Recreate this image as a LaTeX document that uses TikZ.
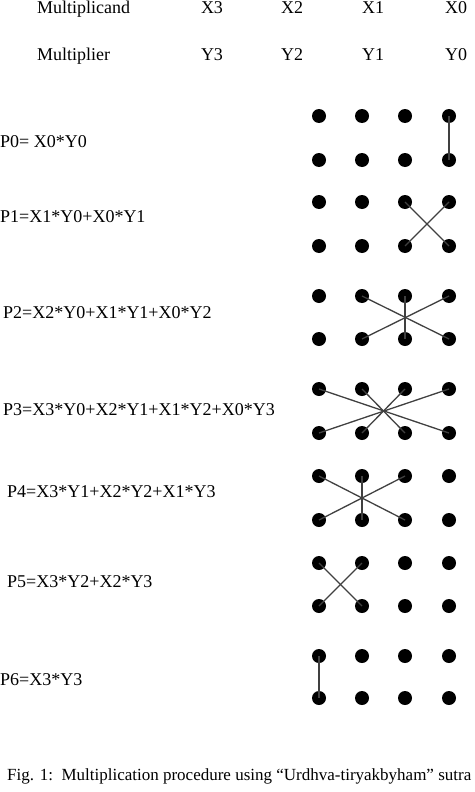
\documentclass[tikz,border=0pt]{standalone}
\usepackage{fontspec}
\setmainfont{Liberation Serif}
\usetikzlibrary{positioning}

\tikzset{
  dot/.style={circle, fill=black, inner sep=0pt, minimum size=14pt},
  leg/.style={line width=1.3pt, black!75},
  txt/.style={inner sep=0pt, font=\fontsize{18}{20}\selectfont},
}

\begin{document}
\begin{tikzpicture}[x=1pt, y=-1pt]
    \useasboundingbox (0,0) rectangle (474,792);%

    % Header
    \node [txt, anchor=base west] (Mcand) at (37,14) {Multiplicand};%
    \node [txt, anchor=base west] (Mplier) at (37,61) {Multiplier};%
    \foreach \c/\x in {3/212, 2/292, 1/373, 0/456} {%
      \node [txt, anchor=base] (X\c) at (\x,14) {X\c};%
      \node [txt, anchor=base] (Y\c) at (\x,61) {Y\c};%
    }

    % Dot grids (t = multiplicand row, b = multiplier row)
    \foreach \p/\yt/\yb in {0/116/160, 1/202/246, 2/296/339, 3/389/433,
      4/476/520, 5/563/606, 6/656/698} {%
      \foreach \c/\x in {3/319, 2/362, 1/405, 0/449} {%
        \node [dot] (t\p-\c) at (\x,\yt) {};%
        \node [dot] (b\p-\c) at (\x,\yb) {};%
      }
    }

    % Partial products
    \node [txt, anchor=west] (P0) at (0,142) {P0= X0*Y0};%
    \node [txt, anchor=west] (P1) at (0,217) {P1=X1*Y0+X0*Y1};%
    \node [txt, anchor=west] (P2) at (3,313) {P2=X2*Y0+X1*Y1+X0*Y2};%
    \node [txt, anchor=west] (P3) at (3,410) {P3=X3*Y0+X2*Y1+X1*Y2+X0*Y3};%
    \node [txt, anchor=west] (P4) at (7,492) {P4=X3*Y1+X2*Y2+X1*Y3};%
    \node [txt, anchor=west] (P5) at (7,582) {P5=X3*Y2+X2*Y3};%
    \node [txt, anchor=west] (P6) at (0,680) {P6=X3*Y3};%

    % Crosswise lines
    \draw [leg] (t0-0.center) -- (b0-0.center);%
    \draw [leg] (t1-1.center) -- (b1-0.center);%
    \draw [leg] (t1-0.center) -- (b1-1.center);%
    \draw [leg] (t2-2.center) -- (b2-0.center);%
    \draw [leg] (t2-1.center) -- (b2-1.center);%
    \draw [leg] (t2-0.center) -- (b2-2.center);%
    \draw [leg] (t3-3.center) -- (b3-0.center);%
    \draw [leg] (t3-2.center) -- (b3-1.center);%
    \draw [leg] (t3-1.center) -- (b3-2.center);%
    \draw [leg] (t3-0.center) -- (b3-3.center);%
    \draw [leg] (t4-3.center) -- (b4-1.center);%
    \draw [leg] (t4-2.center) -- (b4-2.center);%
    \draw [leg] (t4-1.center) -- (b4-3.center);%
    \draw [leg] (t5-3.center) -- (b5-2.center);%
    \draw [leg] (t5-2.center) -- (b5-3.center);%
    \draw [leg] (t6-3.center) -- (b6-3.center);%

    % Caption
    \node [inner sep=0pt, anchor=base west, font=\fontsize{17}{19}\selectfont]
    (Cap) at (7,780) {Fig. 1:\ \ Multiplication procedure using
      ``Urdhva-tiryakbyham'' sutra};%
\end{tikzpicture}
\end{document}
